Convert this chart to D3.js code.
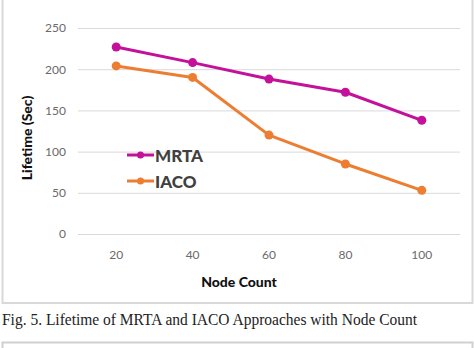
<!DOCTYPE html>
<html>
<head>
<meta charset="utf-8">
<script src="https://cdn.jsdelivr.net/npm/d3@7"></script>
<style>
  body { margin: 0; background: #fff; }
  svg { display: block; }
</style>
</head>
<body>
<script>
const nodeCounts = ['20', '40', '60', '80', '100'];
const mrtaLifetime = [227, 208, 188, 172, 138];
const iacoLifetime = [204, 190, 120, 85, 53];
const yTicks = [0, 50, 100, 150, 200, 250];

const series = [
    { name: 'MRTA', values: mrtaLifetime, color: '#c4109a' },
    { name: 'IACO', values: iacoLifetime, color: '#ed7d31' }
];

const svgWidth = 474;
const svgHeight = 348;
const margin = { top: 28, right: 14, bottom: 114, left: 78 };
const width = svgWidth - margin.left - margin.right;
const height = 234 - margin.top;

const font = 'Lato, sans-serif';

const root = d3.select('body')
    .append('svg')
    .attr('width', svgWidth)
    .attr('height', svgHeight);

// chart frame and the frame of the next figure below the caption
root.append('rect')
    .attr('x', 2.5).attr('y', -2)
    .attr('width', 470).attr('height', 305)
    .attr('fill', 'none')
    .attr('stroke', '#d9d9d9')
    .attr('stroke-width', 2);

root.append('rect')
    .attr('x', 2.5).attr('y', 342.5)
    .attr('width', 470).attr('height', 20)
    .attr('fill', 'none')
    .attr('stroke', '#d0d0d0')
    .attr('stroke-width', 2);

const svg = root.append('g')
    .attr('transform', `translate(${margin.left}, ${margin.top})`);

const x = d3.scaleBand()
    .domain(nodeCounts)
    .range([0, width]);

const y = d3.scaleLinear()
    .domain([0, 250])
    .range([height, 0]);

// horizontal gridlines with value labels
const yAxis = svg.append('g')
    .call(d3.axisLeft(y).tickValues(yTicks).tickSize(-width).tickPadding(12));
yAxis.select('.domain').remove();
yAxis.selectAll('.tick line')
    .attr('stroke', '#d9d9d9')
    .attr('stroke-width', 1);
yAxis.selectAll('.tick text')
    .attr('fill', '#6a6a6a')
    .style('font-family', font)
    .style('font-size', '12px');

const xAxis = svg.append('g')
    .attr('transform', `translate(0, ${height})`)
    .call(d3.axisBottom(x).tickSize(0).tickPadding(16));
xAxis.select('.domain').remove();
xAxis.selectAll('.tick text')
    .attr('fill', '#6a6a6a')
    .style('font-family', font)
    .style('font-size', '12px');

const line = d3.line()
    .x((d, i) => x(nodeCounts[i]) + x.bandwidth() / 2)
    .y(d => y(d));

series.forEach(s => {
    svg.append('path')
        .datum(s.values)
        .attr('fill', 'none')
        .attr('stroke', s.color)
        .attr('stroke-width', 3)
        .attr('stroke-linejoin', 'round')
        .attr('d', line);

    svg.selectAll(null)
        .data(s.values)
        .enter()
        .append('circle')
        .attr('cx', (d, i) => x(nodeCounts[i]) + x.bandwidth() / 2)
        .attr('cy', d => y(d))
        .attr('r', 4.5)
        .attr('fill', s.color);
});

// legend inside the plot area
const legend = root.append('g')
    .attr('transform', 'translate(127, 155)');

series.forEach((s, i) => {
    const row = legend.append('g')
        .attr('transform', `translate(0, ${i * 26})`);
    row.append('line')
        .attr('x1', 0).attr('x2', 27)
        .attr('stroke', s.color)
        .attr('stroke-width', 3);
    row.append('circle')
        .attr('cx', 13.5)
        .attr('r', 3.5)
        .attr('fill', s.color);
    row.append('text')
        .attr('x', 28)
        .attr('y', 6.5)
        .attr('fill', '#404040')
        .style('font-family', font)
        .style('font-weight', '900')
        .style('font-size', '17px')
        .text(s.name);
});

root.append('text')
    .attr('transform', 'translate(32, 138) rotate(-90)')
    .attr('text-anchor', 'middle')
    .attr('fill', '#111')
    .style('font-family', font)
    .style('font-weight', '900')
    .style('font-size', '14px')
    .text('Lifetime (Sec)');

root.append('text')
    .attr('x', 239)
    .attr('y', 287)
    .attr('text-anchor', 'middle')
    .attr('fill', '#111')
    .style('font-family', font)
    .style('font-weight', '900')
    .style('font-size', '14px')
    .text('Node Count');

root.append('text')
    .attr('x', 2)
    .attr('y', 325)
    .attr('fill', '#222')
    .attr('textLength', 415)
    .attr('lengthAdjust', 'spacingAndGlyphs')
    .style('font-family', 'Liberation Serif, serif')
    .style('font-size', '16px')
    .text('Fig. 5. Lifetime of MRTA and IACO Approaches with Node Count');
</script>
</body>
</html>
